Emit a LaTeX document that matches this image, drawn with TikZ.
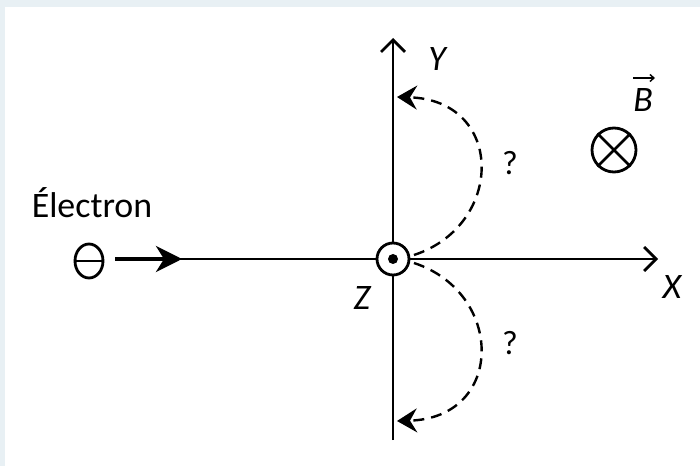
\documentclass[tikz,border=0pt]{standalone}
\usepackage{fontspec}
\setmainfont{Carlito}
\usetikzlibrary{arrows.meta,shapes.geometric}
\begin{document}
\begin{tikzpicture}[x=1bp,y=-1bp,
  ax/.style={line width=2.8bp,-{Straight Barb[length=12bp,width=24bp,line width=2.8bp]}},
  dsh/.style={line width=2.4bp,dash pattern=on 11bp off 7bp,-{Stealth[length=20bp,width=24bp,inset=7bp]}},
  lbl/.style={font=\fontsize{36}{40}\selectfont\itshape,inner sep=0pt},
  txt/.style={font=\fontsize{36}{40}\selectfont,inner sep=0pt}]
\fill[color={rgb,255:red,232;green,240;blue,244}] (0,0) rectangle (700,466);
\fill[white] (5,7) rectangle (700,466);
\useasboundingbox (0,0) rectangle (700,466);
\coordinate (O) at (393,259);
\coordinate (ytop) at (393,38);
\coordinate (ybot) at (393,440);
\coordinate (xl) at (115,259);
\coordinate (xr) at (658,259);
\coordinate (ea) at (182,259);
\draw[line width=2.8bp] (ybot) -- (O);
\draw[ax] (O) -- (ytop);
\draw[ax] (xl) -- (xr);
\draw[line width=3.8bp,-{Stealth[length=26bp,width=26bp,inset=8bp]}] (xl) -- (ea);
\node[draw,line width=2.8bp,ellipse,minimum width=28bp,minimum height=34bp,inner sep=0pt] (el) at (89,261) {};
\draw[line width=2.8bp] (el.west) -- (el.east);
\node[draw,line width=2.8bp,fill=white,circle,minimum size=32bp,inner sep=0pt] (zc) at (O) {};
\fill (O) circle (5bp);
\node[draw,line width=2.8bp,circle,minimum size=44bp,inner sep=0pt] (bc) at (614,150) {};
\draw[line width=2.8bp] (bc.north west) -- (bc.south east) (bc.north east) -- (bc.south west);
\coordinate (u0) at (414,255);
\coordinate (u1) at (397,97);
\coordinate (l0) at (414,263);
\coordinate (l1) at (397,421);
\draw[dsh] (u0) .. controls (505,225) and (505,100) .. (u1);
\draw[dsh] (l0) .. controls (505,293) and (505,418) .. (l1);
\node[lbl] (Y) at (437,59) {Y};
\node[lbl] (X) at (672,287) {X};
\node[lbl] (Z) at (362,298) {Z};
\node[txt] (E) at (92,203) {Électron};
\node[lbl] (B) at (643,100) {B};
\coordinate (ba) at (633,78);
\coordinate (bb) at (655,78);
\draw[line width=1.4bp,-{Straight Barb[length=4bp,width=7bp]}] (ba) -- (bb);
\node[font=\fontsize{34}{38}\selectfont,inner sep=0pt] (q1) at (510,163) {?};
\node[font=\fontsize{34}{38}\selectfont,inner sep=0pt] (q2) at (510,343) {?};
\end{tikzpicture}
\end{document}
